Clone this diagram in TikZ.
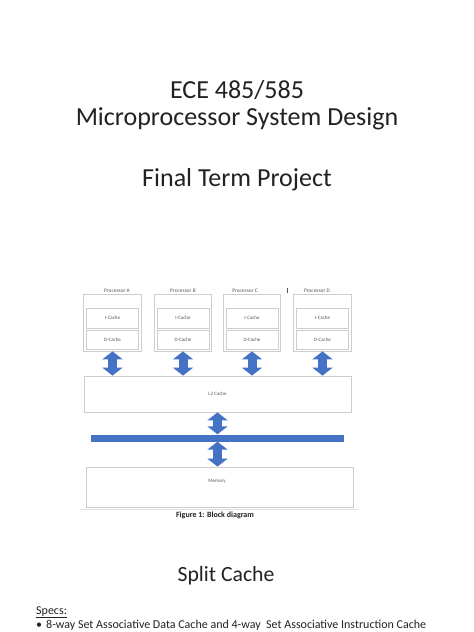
\documentclass[tikz,border=0pt]{standalone}
\usepackage{fontspec}
\setmainfont{Carlito}
\usetikzlibrary{arrows.meta}
\definecolor{officeblue}{HTML}{4472C4}
\definecolor{boxgray}{HTML}{CDCDCD}
\definecolor{labelgray}{HTML}{555555}
\definecolor{titleblack}{HTML}{222222}
\tikzset{
  fs/.style={font=\fontsize{#1}{#1}\selectfont},
  titletext/.style={anchor=base, inner sep=0pt, text=titleblack},
  procbox/.style={draw=boxgray, line width=0.8pt, minimum width=57.5pt, minimum height=57pt, inner sep=0pt},
  cachebox/.style={draw=boxgray, line width=0.8pt, minimum width=52pt, minimum height=20pt, inner sep=0pt, text=labelgray, fs=5},
  bigbox/.style={draw=boxgray, line width=0.8pt, minimum width=267pt, inner sep=0pt},
  smalllabel/.style={anchor=base, inner sep=0pt, text=labelgray, fs=5.4},
  bigarrow/.style={draw=officeblue, line width=9pt,
     {Triangle[width=20pt,length=8pt]}-{Triangle[width=20pt,length=8pt]}},
}
\begin{document}
\begin{tikzpicture}[x=1pt,y=-1pt]
\useasboundingbox[fill=white] (0,0) rectangle (474,632);
% titles
\node[titletext, fs=26] (t1) at (237,98) {ECE 485/585};
\node[titletext, fs=26] (t2) at (237,125) {Microprocessor System Design};
\node[titletext, fs=26] (t3) at (237,186) {Final Term Project};
% processors
\foreach \n/\x/\lx/\lab/\ic in {A/112.5/117/Processor A/I-Cache, B/183/183/Processor B/I-Cache, C/252/245/Processor C/I-Cache, D/322.5/317/Processor D/I-Cache}{
  \node[procbox] (p\n) at (\x,322.5) {};
  \node[smalllabel] (pl\n) at (\lx,292) {\lab};
  \node[cachebox] (ic\n) at (\x,318) {\ic};
  \node[cachebox, minimum height=19pt] (dc\n) at (\x,339.5) {D-Cache};
}
\draw[labelgray, line width=0.4pt] (287,287.5) coordinate (barT) -- (287,292.5) coordinate (barB);
% L2 cache
\node[bigbox, minimum height=36pt, text=labelgray, fs=5] (l2) at (217.5,394) {L2 Cache};
% bus
\node[fill=officeblue, minimum width=253pt, minimum height=7pt, inner sep=0pt] (bus) at (217.5,438) {};
% memory
\node[bigbox, minimum height=40pt] (mem) at (219.5,487) {};
\node[smalllabel, fs=5] (meml) at (217,482) {Memory};
% arrows
\foreach \n in {A,B,C,D}{
  \draw[bigarrow] (p\n.south) -- (p\n.south |- l2.north);
}
\draw[bigarrow] (l2.south) -- (l2.south |- bus.north);
\draw[bigarrow] (l2.south |- bus.south) -- (l2.south |- mem.north);
% frame line
\draw[boxgray!60, line width=0.6pt] (80,509) coordinate (fl) -- (358,509) coordinate (fr);
\node[anchor=base, inner sep=0pt, text=titleblack, font=\bfseries\fontsize{8}{8}\selectfont] (cap) at (215,517) {Figure 1: Block diagram};
% bottom
\node[titletext, fs=21.7] (split) at (226,581) {Split Cache};
\node[titletext, fs=12, anchor=base west] (specs) at (36,614) {\underline{Specs:}};
\node[titletext, fs=12, anchor=base west] (bul) at (36,628) {•\hspace{4pt}8-way Set Associative Data Cache and 4-way\ \ Set Associative Instruction Cache};
\end{tikzpicture}
\end{document}
